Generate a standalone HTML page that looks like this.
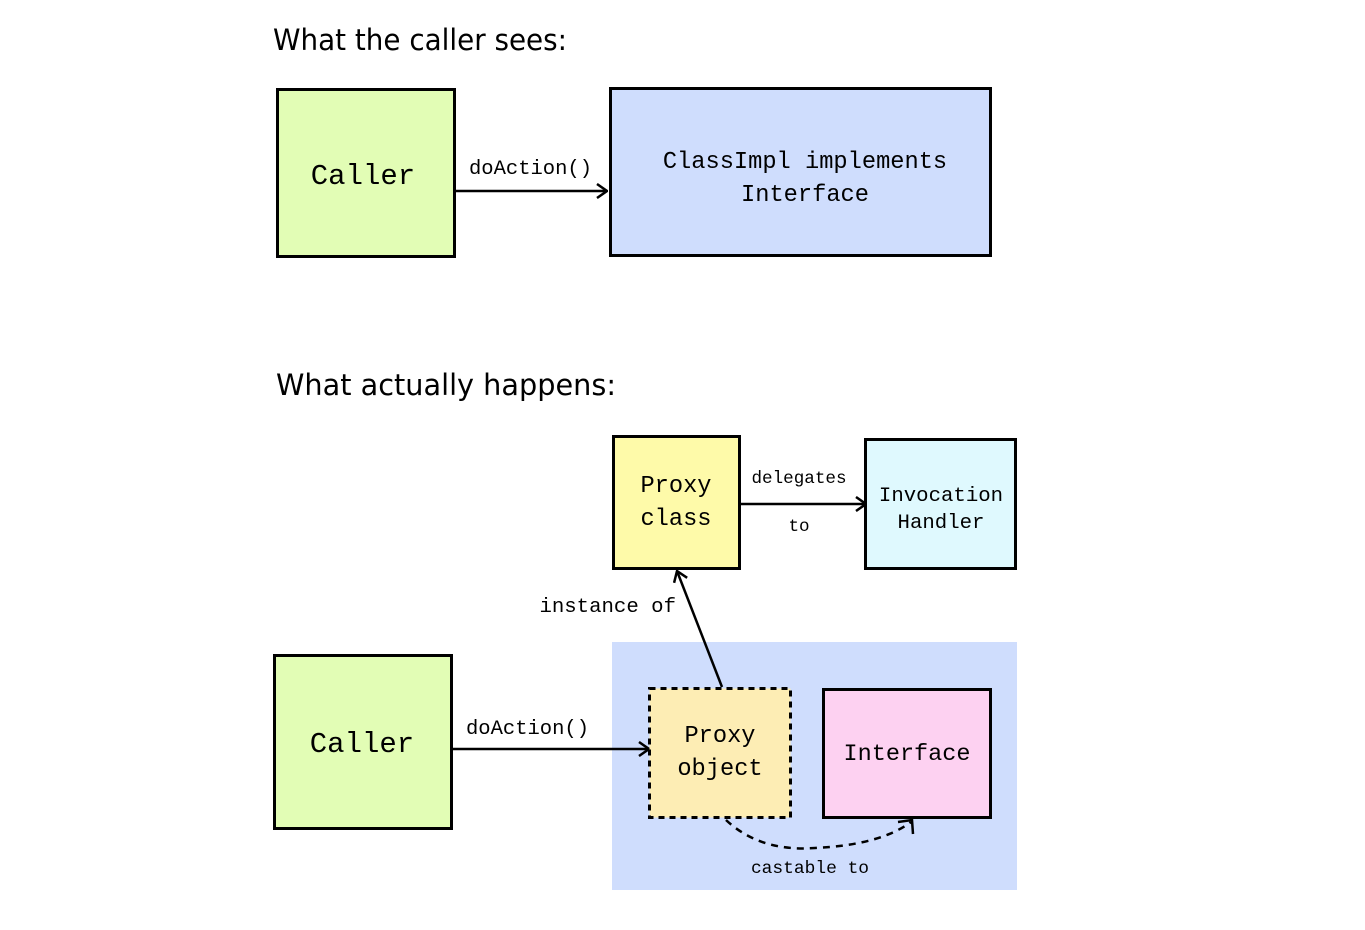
<!DOCTYPE html>
<html><head><meta charset="utf-8"><style>
html,body{margin:0;padding:0;background:#fff;}
svg{display:block;}
.t{font-family:"DejaVu Sans","Liberation Sans",sans-serif;font-size:29px;fill:#000;}
.m{font-family:"Liberation Mono","DejaVu Sans Mono",monospace;fill:#000;}
</style></head><body>
<svg width="1365" height="930" viewBox="0 0 1365 930" xmlns="http://www.w3.org/2000/svg">
<defs>
<marker id="a" viewBox="0 0 12 16" refX="11" refY="8" markerWidth="12" markerHeight="16" markerUnits="userSpaceOnUse" orient="auto">
<path d="M1 1 L11 8 L1 15" fill="none" stroke="#000" stroke-width="2.5"/>
</marker>
</defs>
<text class="t" x="273" y="50" textLength="294" lengthAdjust="spacingAndGlyphs">What the caller sees:</text>
<text class="t" x="276" y="395" textLength="340" lengthAdjust="spacingAndGlyphs">What actually happens:</text>

<rect x="277.5" y="89.5" width="177" height="167" fill="#e2fdb5" stroke="#000" stroke-width="3"/>
<text class="m" x="363" y="184" font-size="29" text-anchor="middle">Caller</text>
<line x1="455" y1="191" x2="607" y2="191" stroke="#000" stroke-width="2.5" marker-end="url(#a)"/>
<text class="m" x="469" y="174" font-size="20.5">doAction()</text>
<rect x="610.5" y="88.5" width="380" height="167" fill="#cfddfd" stroke="#000" stroke-width="3"/>
<text class="m" x="805" y="168" font-size="23.7" text-anchor="middle">ClassImpl implements</text>
<text class="m" x="805" y="201" font-size="23.7" text-anchor="middle">Interface</text>

<rect x="612" y="642" width="405" height="248" fill="#cfddfd"/>

<rect x="613.5" y="436.5" width="126" height="132" fill="#fefaa9" stroke="#000" stroke-width="3"/>
<text class="m" x="676" y="492" font-size="23.7" text-anchor="middle">Proxy</text>
<text class="m" x="676" y="525" font-size="23.7" text-anchor="middle">class</text>
<rect x="865.5" y="439.5" width="150" height="129" fill="#dff9fe" stroke="#000" stroke-width="3"/>
<text class="m" x="941" y="501" font-size="20.7" text-anchor="middle">Invocation</text>
<text class="m" x="941" y="528" font-size="20.7" text-anchor="middle">Handler</text>
<line x1="740" y1="504" x2="866" y2="504" stroke="#000" stroke-width="2.5" marker-end="url(#a)"/>
<text class="m" x="799" y="483" font-size="17.6" text-anchor="middle">delegates</text>
<text class="m" x="799" y="531" font-size="17.6" text-anchor="middle">to</text>

<line x1="722" y1="687" x2="677" y2="571" stroke="#000" stroke-width="2.5" marker-end="url(#a)"/>
<text class="m" x="676" y="612" font-size="20.7" text-anchor="end">instance of</text>

<rect x="274.5" y="655.5" width="177" height="173" fill="#e2fdb5" stroke="#000" stroke-width="3"/>
<text class="m" x="362" y="752" font-size="29" text-anchor="middle">Caller</text>
<line x1="452" y1="749" x2="649" y2="749" stroke="#000" stroke-width="2.5" marker-end="url(#a)"/>
<text class="m" x="466" y="734" font-size="20.5">doAction()</text>

<rect x="649.5" y="688.5" width="141" height="129" fill="#fdedb4" stroke="#000" stroke-width="3" stroke-dasharray="6,5"/>
<text class="m" x="720" y="742" font-size="23.7" text-anchor="middle">Proxy</text>
<text class="m" x="720" y="775" font-size="23.7" text-anchor="middle">object</text>
<rect x="823.5" y="689.5" width="167" height="128" fill="#fdd1f1" stroke="#000" stroke-width="3"/>
<text class="m" x="907" y="760" font-size="23.5" text-anchor="middle">Interface</text>

<path d="M726 820 Q760 852 815 848 Q880 845 911 822" fill="none" stroke="#000" stroke-width="2.5" stroke-dasharray="7,6"/>
<path d="M898 822 L912 820 L913 834" fill="none" stroke="#000" stroke-width="2.5"/>
<text class="m" x="810" y="873" font-size="17.9" text-anchor="middle">castable to</text>
</svg>
</body></html>
